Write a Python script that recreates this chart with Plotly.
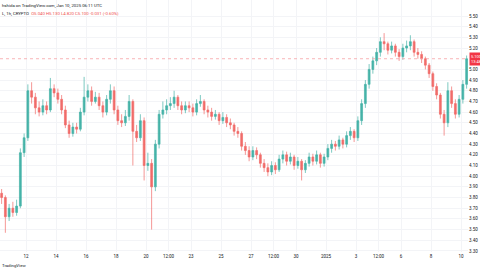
import numpy as np
import plotly.graph_objects as go

# ---- data (6h candles, x in "day of Dec" units; Jan 1 = 32) ----
opens = [3.84,3.80,3.62,3.70,3.66,3.72,4.22,4.36,4.80,4.74,
         4.64,4.60,4.66,4.62,4.82,4.78,4.72,4.62,4.48,4.40,
         4.46,4.44,4.60,4.74,4.80,4.70,4.74,4.66,4.60,4.72,
         4.80,4.62,4.52,4.50,4.56,4.70,4.42,4.36,4.52,4.10,
         4.12,3.90,4.30,4.58,4.62,4.66,4.68,4.74,4.66,4.62,
         4.66,4.64,4.60,4.68,4.70,4.62,4.60,4.56,4.58,4.52,
         4.55,4.50,4.48,4.42,4.40,4.28,4.24,4.18,4.24,4.20,
         4.12,4.08,4.04,4.10,4.06,4.16,4.20,4.14,4.18,4.10,
         4.14,4.06,4.12,4.18,4.14,4.20,4.12,4.18,4.26,4.30,
         4.28,4.34,4.30,4.38,4.42,4.36,4.52,4.68,4.86,5.00,
         5.08,5.16,5.26,5.24,5.18,5.22,5.16,5.12,5.20,5.22,
         5.26,5.16,5.14,5.10,5.04,4.96,4.84,4.76,4.58,4.50,
         4.80,4.68,4.58,4.72,4.86]
highs = [3.88,3.82,3.74,3.76,3.78,4.26,4.40,4.86,4.88,4.78,
         4.70,4.72,4.70,4.92,4.86,4.82,4.76,4.66,4.52,4.50,
         4.50,4.64,4.93,4.86,4.84,4.79,4.78,4.70,4.76,4.86,
         4.84,4.66,4.58,4.62,4.76,4.72,4.48,4.58,4.55,4.22,
         4.16,4.34,4.62,4.70,4.72,4.74,4.80,4.76,4.70,4.70,
         4.70,4.68,4.72,4.76,4.72,4.66,4.64,4.62,4.60,4.60,
         4.58,4.54,4.50,4.46,4.42,4.32,4.28,4.28,4.27,4.22,
         4.16,4.12,4.14,4.13,4.20,4.24,4.23,4.22,4.20,4.18,
         4.16,4.15,4.22,4.21,4.24,4.22,4.21,4.30,4.34,4.33,
         4.38,4.36,4.42,4.46,4.44,4.56,4.72,4.90,5.05,5.12,
         5.20,5.30,5.34,5.26,5.26,5.24,5.19,5.24,5.27,5.32,
         5.28,5.20,5.17,5.12,5.06,4.98,4.87,4.78,4.62,4.88,
         4.84,4.72,4.76,4.90,5.13]
lows = [3.74,3.47,3.58,3.62,3.63,3.70,4.18,4.33,4.68,4.58,
        4.56,4.57,4.58,4.60,4.74,4.68,4.58,4.45,4.36,4.37,
        4.40,4.42,4.57,4.70,4.66,4.68,4.62,4.55,4.57,4.68,
        4.58,4.48,4.46,4.47,4.52,4.10,4.32,4.33,3.96,4.05,
        3.50,3.86,4.26,4.54,4.58,4.62,4.64,4.62,4.58,4.59,
        4.60,4.56,4.57,4.65,4.58,4.55,4.52,4.53,4.48,4.49,
        4.46,4.44,4.38,4.36,4.24,4.20,4.14,4.15,4.16,4.08,
        4.04,4.00,4.01,4.02,4.04,4.12,4.10,4.11,4.06,4.07,
        3.96,4.03,4.09,4.10,4.11,4.08,4.09,4.15,4.22,4.24,
        4.25,4.26,4.27,4.34,4.32,4.33,4.48,4.64,4.82,4.96,
        5.04,5.12,5.18,5.14,5.15,5.12,5.08,5.09,5.16,5.18,
        5.12,5.10,5.06,5.00,4.92,4.80,4.72,4.54,4.38,4.46,
        4.64,4.54,4.55,4.68,4.82]
closes = [3.80,3.62,3.70,3.66,3.72,4.22,4.36,4.80,4.74,4.64,
          4.60,4.66,4.62,4.82,4.78,4.72,4.62,4.48,4.40,4.46,
          4.44,4.60,4.74,4.80,4.70,4.74,4.66,4.60,4.72,4.80,
          4.62,4.52,4.50,4.56,4.70,4.42,4.36,4.52,4.10,4.12,
          3.90,4.30,4.58,4.62,4.66,4.68,4.74,4.66,4.62,4.66,
          4.64,4.60,4.68,4.70,4.62,4.60,4.56,4.58,4.52,4.55,
          4.50,4.48,4.42,4.40,4.28,4.24,4.18,4.24,4.20,4.12,
          4.08,4.04,4.10,4.06,4.16,4.20,4.14,4.18,4.10,4.14,
          4.06,4.12,4.18,4.14,4.20,4.12,4.18,4.26,4.30,4.28,
          4.34,4.30,4.38,4.42,4.36,4.52,4.68,4.86,5.00,5.08,
          5.16,5.26,5.24,5.18,5.22,5.16,5.12,5.20,5.22,5.26,
          5.16,5.14,5.10,5.04,4.96,4.84,4.76,4.58,4.50,4.80,
          4.68,4.58,4.72,4.86,5.10]

x_start_day = 10.375
x_step_day = 0.25
times = x_start_day + x_step_day * np.arange(len(closes))

tick_vals = [12, 14, 16, 18, 20, 21.5, 23, 25, 27, 28.5, 30, 32, 34, 35.5, 37, 39, 41]
tick_text = ["12", "14", "16", "18", "20", "12:00", "23", "25", "27", "12:00",
             "30", "2025", "3", "12:00", "6", "8", "10"]
# 5.10 is covered by the last-price label, as in the reference
price_ticks = [3.30, 3.40, 3.50, 3.60, 3.70, 3.80, 3.90, 4.00, 4.10, 4.20, 4.30,
               4.40, 4.50, 4.60, 4.70, 4.80, 4.90, 5.00, 5.20, 5.30, 5.40, 5.50]
last_price = closes[-1]

UP = "#26a69a"
DOWN = "#ef5350"

fig = go.Figure()
fig.add_trace(go.Candlestick(
    x=times, open=opens, high=highs, low=lows, close=closes,
    increasing=dict(line=dict(color=UP, width=0.7), fillcolor=UP),
    decreasing=dict(line=dict(color=DOWN, width=0.7), fillcolor=DOWN),
    whiskerwidth=0, hoverinfo="skip", showlegend=False, opacity=0.85,
))

fig.add_shape(type="line", xref="paper", x0=0, x1=1, yref="y",
              y0=last_price, y1=last_price,
              line=dict(color="#f7a1a5", width=0.8, dash="dot"))

fig.update_layout(
    width=480, height=270,
    margin=dict(l=0, r=12, t=0, b=18),
    paper_bgcolor="white", plot_bgcolor="white",
    font=dict(family="Roboto, DejaVu Sans, sans-serif", size=4.5, color="#131722"),
    xaxis=dict(range=[10.267, 41.467], rangeslider=dict(visible=False),
               tickmode="array", tickvals=tick_vals, ticktext=tick_text,
               showgrid=True, gridcolor="#f3f4f7", gridwidth=0.6,
               zeroline=False, showline=False, ticks="", ticklen=0,
               tickfont=dict(size=4.5, color="#131722")),
    yaxis=dict(range=[3.29, 5.65], side="right", tickmode="array",
               tickvals=price_ticks, ticktext=[f"{v:.2f}" for v in price_ticks],
               showgrid=True, gridcolor="#f3f4f7", gridwidth=0.6,
               zeroline=False, showline=False, ticks="", ticklen=0,
               tickfont=dict(size=4.5, color="#131722")),
)

fig.add_annotation(xref="paper", yref="paper", x=0, y=1.0, xanchor="left", yanchor="top",
                   text="hshida on TradingView.com, Jan 10, 2025 06:11 UTC",
                   showarrow=False, font=dict(size=4.3, color="#131722"), yshift=-1)
fig.add_annotation(xref="paper", yref="paper", x=0, y=1.0, xanchor="left", yanchor="top",
                   text="L, 1h, CRYPTO  <span style='color:#ef5350'>O5.040 H5.130 L4.820 C5.100 -0.031 (-0.60%)</span>",
                   showarrow=False, font=dict(size=4.3, color="#131722"), yshift=-9)
fig.add_annotation(xref="paper", yref="y", x=1.0, y=last_price, xanchor="left", yanchor="middle",
                   text="5.100<br>13:48", showarrow=False, bgcolor="#f23645",
                   font=dict(size=4, color="white"), xshift=1)
fig.add_annotation(xref="paper", yref="paper", x=0, y=-0.052, xanchor="left", yanchor="middle",
                   text="TradingView", showarrow=False,
                   font=dict(size=4.3, color="#131722"))

fig.write_html("out.html")
